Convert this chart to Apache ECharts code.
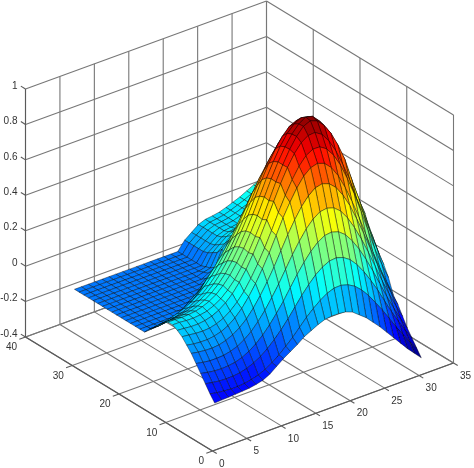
<!DOCTYPE html>
<html><head><meta charset="utf-8">
<style>html,body{margin:0;padding:0;background:#fff}#c{width:474px;height:468px}</style>
<script src="https://cdn.jsdelivr.net/npm/echarts@6/dist/echarts.min.js"></script>
</head><body><div id="c"></div>
<script>
const xTicks=[0,5,10,15,20,25,30,35];
const yTicks=[0,10,20,30,40];
const zTicks=[-0.4,-0.2,0,0.2,0.4,0.6,0.8,1];
const zTickLabels=['-0.4','-0.2','0','0.2','0.4','0.6','0.8','1'];
const gridX=[1,2,3,4,5,6,7,8,9,10,11,12,13,14,15,16,17,18,19,20,21,22,23,24,25,26,27,28,29,30,31];
const gridY=[1,2,3,4,5,6,7,8,9,10,11,12,13,14,15,16,17,18,19,20,21,22,23,24,25,26,27,28,29,30,31];
const zY01=[-.16,-.157,-.155,-.153,-.15,-.147,-.14,-.13,-.11,-.08,-.05,-.025,0,.03,.05,.07,.085,.09,.09,.085,.07,.04,.01,-.03,-.07,-.115,-.16,-.205,-.25,-.29,-.33];
const zY02=[-.124,-.131,-.136,-.14,-.14,-.136,-.129,-.117,-.099,-.075,-.046,-.012,.025,.067,.109,.145,.177,.202,.217,.219,.208,.186,.151,.106,.052,-.004,-.066,-.128,-.186,-.241,-.29];
const zY03=[-.083,-.09,-.096,-.098,-.097,-.092,-.082,-.065,-.043,-.012,.024,.066,.113,.165,.217,.263,.304,.334,.354,.358,.346,.32,.278,.224,.161,.093,.017,-.057,-.126,-.192,-.25];
const zY04=[-.041,-.049,-.055,-.057,-.055,-.049,-.036,-.015,.012,.048,.091,.142,.196,.258,.319,.373,.421,.458,.482,.487,.475,.445,.396,.335,.263,.183,.098,.012,-.067,-.143,-.21];
const zY05=[-.001,-.008,-.014,-.014,-.012,-.003,.011,.035,.066,.108,.157,.215,.277,.346,.414,.476,.531,.573,.6,.606,.594,.562,.509,.441,.362,.274,.18,.085,-.003,-.085,-.16];
const zY06=[.04,.033,.029,.027,.031,.042,.06,.086,.121,.168,.224,.287,.357,.434,.511,.58,.641,.688,.719,.728,.714,.679,.622,.549,.46,.365,.262,.159,.063,-.028,-.11];
const zY07=[.071,.063,.06,.059,.065,.076,.095,.125,.164,.216,.276,.345,.421,.505,.59,.664,.73,.783,.816,.827,.813,.775,.715,.635,.542,.44,.328,.217,.114,.018,-.07];
const zY08=[.102,.098,.093,.091,.094,.104,.121,.148,.184,.23,.289,.357,.433,.516,.604,.687,.761,.823,.868,.891,.89,.865,.815,.745,.655,.555,.44,.32,.2,.1,.01];
const zY09=[.122,.119,.115,.115,.12,.131,.15,.178,.215,.265,.325,.396,.475,.561,.651,.737,.814,.878,.926,.952,.955,.93,.88,.81,.72,.62,.5,.4,.28,.17,.066];
const zY10=[.137,.137,.133,.132,.136,.144,.161,.185,.22,.264,.321,.388,.465,.547,.639,.731,.813,.886,.945,.988,1.005,.99,.951,.892,.812,.718,.59,.47,.35,.23,.11];
const zY11=[.136,.136,.134,.136,.141,.152,.169,.193,.229,.273,.33,.396,.471,.553,.643,.732,.813,.884,.942,.985,1.01,1,.96,.905,.83,.74,.64,.52,.38,.27,.16];
const zY12=[.116,.116,.117,.12,.127,.14,.159,.186,.221,.266,.323,.389,.464,.544,.632,.721,.8,.872,.93,.969,.99,.982,.953,.903,.834,.75,.66,.56,.45,.33,.21];
const zY13=[.09,.09,.093,.099,.108,.122,.143,.17,.206,.252,.308,.372,.445,.523,.609,.695,.773,.842,.9,.94,.958,.956,.932,.886,.824,.749,.665,.575,.48,.39,.29];
const zY14=[.059,.059,.064,.072,.083,.098,.12,.147,.183,.226,.28,.341,.41,.484,.564,.645,.718,.784,.839,.878,.897,.897,.878,.839,.784,.718,.645,.564,.484,.41,.33];
const zY15=[.033,.033,.04,.05,.062,.077,.098,.126,.16,.202,.251,.308,.373,.441,.515,.591,.658,.719,.771,.808,.828,.831,.815,.782,.736,.679,.616,.546,.476,.4,.34];
const zY16=[0,.003,.005,.01,.02,.03,.045,.08,.12,.169,.215,.267,.324,.386,.453,.52,.581,.637,.683,.718,.737,.741,.73,.703,.665,.617,.564,.505,.446,.38,.32];
const zY17=[0,0,0,0,0,0,.02,.05,.08,.11,.15,.19,.233,.28,.333,.385,.44,.53,.59,.646,.673,.678,.673,.65,.62,.57,.51,.45,.39,.34,.31];
const zY18=[0,0,0,0,0,0,0,0,.03,.06,.1,.14,.186,.224,.266,.308,.35,.43,.488,.539,.564,.569,.566,.55,.52,.48,.44,.39,.35,.32,.3];
const zY19=[0,0,0,0,0,0,0,0,0,0,.03,.07,.11,.15,.2,.238,.27,.344,.396,.441,.464,.469,.468,.45,.43,.4,.37,.34,.32,.3,.29];
const zY20=[0,0,0,0,0,0,0,0,0,0,0,.02,.05,.09,.13,.17,.2,.275,.321,.363,.384,.389,.39,.38,.37,.35,.33,.31,.3,.29,.29];
const zY21=[0,0,0,0,0,0,0,0,0,0,0,0,.02,.05,.08,.11,.14,.214,.256,.295,.314,.319,.322,.32,.32,.31,.3,.29,.29,.29,.29];
const zY22=[0,0,0,0,0,0,0,0,0,0,0,0,0,.02,.05,.07,.09,.162,.201,.237,.255,.26,.264,.27,.275,.28,.285,.285,.29,.29,.3];
const zY23=[0,0,0,0,0,0,0,0,0,0,0,0,0,.0,.02,.04,.128,.164,.198,.215,.22,.225,.234,.243,.251,.263,.274,.286,.29,.295,.3];
const zY24=[0,0,0,0,0,0,0,0,0,0,0,0,0,0,.01,.02,.093,.126,.159,.175,.18,.186,.196,.208,.219,.235,.25,.266,.281,.29,.3];
const zY25=[0,0,0,0,0,0,0,0,0,0,0,0,0,0,0,.01,.076,.108,.139,.155,.16,.166,.178,.191,.204,.22,.238,.255,.273,.29,.3];
const zY26=[0,0,0,0,0,0,0,0,0,0,0,0,0,0,0,0,.059,.089,.12,.135,.14,.147,.159,.174,.188,.207,.226,.245,.264,.283,.3];
const zY27=[0,0,0,0,0,0,0,0,0,0,0,0,0,0,0,0,.05,.08,.11,.125,.13,.137,.15,.165,.18,.2,.22,.24,.26,.28,.3];
const zY28=[0,0,0,0,0,0,0,0,0,0,0,0,0,0,0,0,.05,.08,.11,.125,.13,.137,.15,.165,.18,.2,.22,.24,.26,.28,.3];
const zY29=[0,0,0,0,0,0,0,0,0,0,0,0,0,0,0,0,.05,.08,.11,.125,.13,.137,.15,.165,.18,.2,.22,.24,.26,.28,.3];
const zY30=[0,0,0,0,0,0,0,0,0,0,0,0,0,0,0,0,.05,.08,.11,.125,.13,.137,.15,.165,.18,.2,.22,.24,.26,.28,.3];
const zY31=[0,0,0,0,0,0,0,0,0,0,0,0,0,0,0,0,.05,.08,.11,.125,.13,.137,.15,.165,.18,.2,.22,.24,.26,.28,.3];
const surfaceZ=[zY01,zY02,zY03,zY04,zY05,zY06,zY07,zY08,zY09,zY10,zY11,zY12,zY13,zY14,zY15,zY16,zY17,zY18,zY19,zY20,zY21,zY22,zY23,zY24,zY25,zY26,zY27,zY28,zY29,zY30,zY31];

const cMin=-0.33,cMax=1.01,xMax=35,yMax=40,zMin=-0.4,zMax=1;
// oblique 3D view -> 2D value axes
function project(x,y,z){
  return [212.5+(241/35)*x-(187/40)*y, 451-(88/35)*x-(114/40)*y-(248/1.4)*(z-zMin)];
}
function jet(v){
  let t=(v-cMin)/(cMax-cMin); t=Math.max(0,Math.min(1,t));
  t=(Math.floor(t*63.999)+0.5)/64;
  const f=c=>Math.round(255*Math.max(0,Math.min(1,1.5-Math.abs(4*t-c))));
  return 'rgb('+f(3)+','+f(2)+','+f(1)+')';
}
const lines=[];
const gridC='#777777',axisC='#5a5a5a';
xTicks.forEach(x=>{
  lines.push([x,0,zMin,x,yMax,zMin,gridC]);
  lines.push([x,yMax,zMin,x,yMax,zMax,gridC]);
  lines.push([x,0,zMin,x,-0.9,zMin,axisC]);
});
yTicks.forEach(y=>{
  lines.push([0,y,zMin,xMax,y,zMin,gridC]);
  lines.push([xMax,y,zMin,xMax,y,zMax,gridC]);
  lines.push([0,y,zMin,-0.9,y,zMin,axisC]);
});
zTicks.forEach(z=>{
  lines.push([0,yMax,z,xMax,yMax,z,gridC]);
  lines.push([xMax,0,z,xMax,yMax,z,gridC]);
  lines.push([0,yMax,z,0,yMax+1,z,axisC]);
});
lines.push([0,0,zMin,xMax,0,zMin,axisC],[0,0,zMin,0,yMax,zMin,axisC],[0,yMax,zMin,0,yMax,zMax,axisC]);

const cells=[];
for(let j=gridY.length-2;j>=0;j--){
  for(let i=gridX.length-2;i>=0;i--){
    const r0=surfaceZ[j],r1=surfaceZ[j+1];
    cells.push([gridX[i],gridY[j],gridX[i+1],gridY[j+1],r0[i],r0[i+1],r1[i+1],r1[i]]);
  }
}
const labels=[];
xTicks.forEach(x=>labels.push({value:[x,0,zMin],text:String(x),dx:6.5,dy:13,align:'left'}));
yTicks.forEach(y=>labels.push({value:[0,y,zMin],text:String(y),dx:-8.5,dy:10.5,align:'right'}));
zTicks.forEach((z,k)=>labels.push({value:[0,yMax,z],text:zTickLabels[k],dx:-8,dy:-3,align:'right'}));

const chart=echarts.init(document.getElementById('c'),null,{renderer:'canvas',width:474,height:468});
chart.setOption({
  animation:false,
  backgroundColor:'#fff',
  grid:{left:0,right:0,top:0,bottom:0},
  xAxis:{type:'value',min:0,max:474,show:false},
  yAxis:{type:'value',min:0,max:468,inverse:true,show:false},
  series:[
    {type:'custom',coordinateSystem:'cartesian2d',clip:false,silent:true,progressive:0,data:lines,
     renderItem(p,api){
       const d=lines[p.dataIndex];
       const a=api.coord(project(d[0],d[1],d[2])),b=api.coord(project(d[3],d[4],d[5]));
       return {type:'line',shape:{x1:a[0],y1:a[1],x2:b[0],y2:b[1]},style:{stroke:d[6],lineWidth:1.1,fill:null}};
     }},
    {type:'custom',coordinateSystem:'cartesian2d',clip:false,silent:true,progressive:0,data:cells,
     renderItem(p,api){
       const d=cells[p.dataIndex];
       const pts=[[d[0],d[1],d[4]],[d[2],d[1],d[5]],[d[2],d[3],d[6]],[d[0],d[3],d[7]]].map(q=>api.coord(project(q[0],q[1],q[2])));
       return {type:'polygon',shape:{points:pts},style:{fill:jet(d[4]),stroke:'rgba(0,0,0,0.68)',lineWidth:0.6}};
     }},
    {type:'custom',coordinateSystem:'cartesian2d',clip:false,silent:true,progressive:0,data:labels,
     renderItem(p,api){
       const d=labels[p.dataIndex];
       const a=api.coord(project(d.value[0],d.value[1],d.value[2]));
       return {type:'text',style:{x:a[0]+d.dx,y:a[1]+d.dy,text:d.text,fill:'#333',font:'10px "Liberation Sans"',align:d.align,verticalAlign:'middle'}};
     }}
  ]
});
</script></body></html>
